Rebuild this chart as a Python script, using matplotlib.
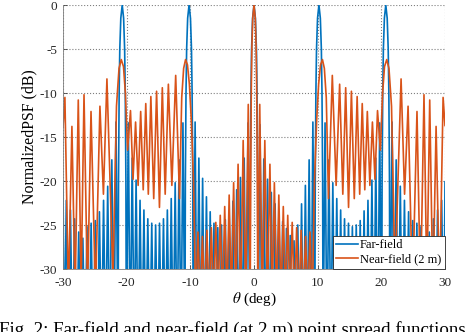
import matplotlib
matplotlib.use("Agg")
import matplotlib.pyplot as plt

# far-field PSF: lobe peaks and nulls (dB)
far_theta = [
    -30.0, -29.8, -29.48, -29.15, -28.83, -28.5, -28.18, -27.85, -27.53, -27.2,
    -26.88, -26.55, -26.23, -25.9, -25.58, -25.25, -24.93, -24.6, -24.28, -23.95,
    -23.63, -23.3, -22.98, -22.65, -22.33, -22.0, -21.68, -21.35,
    -21.28, -21.18, -21.08, -20.92, -20.7, -20.48, -20.32, -20.22, -20.12, -20.05,
    -19.74, -19.44, -19.13, -18.82, -18.52, -18.21, -17.9, -17.6, -17.29, -16.98,
    -16.68, -16.37, -16.06, -15.76, -15.45, -15.14, -14.84, -14.53, -14.22, -13.92,
    -13.61, -13.3, -13.0, -12.69, -12.38, -12.08, -11.77, -11.46, -11.16, -10.85,
    -10.78, -10.68, -10.58, -10.42, -10.2, -9.98, -9.82, -9.72, -9.62, -9.55,
    -9.25, -8.96, -8.66, -8.36, -8.07, -7.77, -7.47, -7.17, -6.88, -6.58,
    -6.29, -5.99, -5.69, -5.39, -5.1, -4.8, -4.5, -4.21, -3.91, -3.61,
    -3.32, -3.02, -2.72, -2.43, -2.13, -1.83, -1.54, -1.24, -0.94, -0.65,
    -0.58, -0.48, -0.38, -0.22, 0.0, 0.22, 0.38, 0.48, 0.58, 0.65,
    0.94, 1.24, 1.54, 1.83, 2.13, 2.43, 2.72, 3.02, 3.32, 3.61,
    3.91, 4.21, 4.5, 4.8, 5.1, 5.39, 5.69, 5.99, 6.29, 6.58,
    6.88, 7.17, 7.47, 7.77, 8.07, 8.36, 8.66, 8.96, 9.25, 9.55,
    9.62, 9.72, 9.82, 9.98, 10.2, 10.42, 10.58, 10.68, 10.78, 10.85,
    11.16, 11.46, 11.77, 12.08, 12.38, 12.69, 13.0, 13.3, 13.61, 13.92,
    14.22, 14.53, 14.84, 15.14, 15.45, 15.76, 16.06, 16.37, 16.68, 16.98,
    17.29, 17.6, 17.9, 18.21, 18.52, 18.82, 19.13, 19.44, 19.74, 20.05,
    20.12, 20.22, 20.32, 20.48, 20.7, 20.92, 21.08, 21.18, 21.28, 21.35,
    21.68, 22.0, 22.33, 22.65, 22.98, 23.3, 23.63, 23.95, 24.28, 24.6,
    24.93, 25.25, 25.58, 25.9, 26.23, 26.55, 26.88, 27.2, 27.53, 27.85,
    28.18, 28.5, 28.83, 29.15, 29.48, 29.8, 30.0,
]
far_db = [
    -20.3, -40, -22.2, -40, -23.3, -40, -24.3, -40, -25.8, -40,
    -26.5, -40, -25.2, -40, -24.8, -40, -24.5, -40, -23.5, -40,
    -22.2, -40, -20.6, -40, -17.6, -40, -13.3, -40,
    -20, -10, -5, -1.5, 0, -1.5, -5, -10, -20, -40,
    -13.4, -40, -17.4, -40, -19.9, -40, -22.2, -40, -23.3, -40,
    -24.3, -40, -24.8, -40, -25.0, -40, -24.8, -40, -24.3, -40,
    -23.3, -40, -22.0, -40, -20.2, -40, -17.6, -40, -13.4, -40,
    -20, -10, -5, -1.5, 0, -1.5, -5, -10, -20, -40,
    -13.3, -40, -17.4, -40, -19.7, -40, -21.8, -40, -23.5, -40,
    -24.8, -40, -25.3, -40, -25.0, -40, -24.4, -40, -23.4, -40,
    -22.3, -40, -21.0, -40, -19.6, -40, -17.4, -40, -13.4, -40,
    -20, -10, -5, -1.5, 0, -1.5, -5, -10, -20, -40,
    -13.6, -40, -17.5, -40, -19.8, -40, -21.3, -40, -22.6, -40,
    -23.6, -40, -24.6, -40, -25.4, -40, -26.2, -40, -26.8, -40,
    -25.0, -40, -22.6, -40, -20.5, -40, -17.6, -40, -13.3, -40,
    -20, -10, -5, -1.5, 0, -1.5, -5, -10, -20, -40,
    -13.4, -40, -17.6, -40, -20.2, -40, -22.0, -40, -23.3, -40,
    -24.3, -40, -24.8, -40, -25.2, -40, -25.0, -40, -24.5, -40,
    -23.4, -40, -22.2, -40, -19.9, -40, -17.4, -40, -13.4, -40,
    -20, -10, -5, -1.5, 0, -1.5, -5, -10, -20, -40,
    -13.3, -40, -17.6, -40, -20.6, -40, -22.2, -40, -23.5, -40,
    -24.5, -40, -24.8, -40, -25.2, -40, -26.5, -40, -25.8, -40,
    -24.3, -40, -23.3, -40, -22.2, -40, -20.1,
]

# near-field (2 m) PSF: lobe peaks and troughs (dB)
near_theta = [
    -30.0, -29.7, -29.15, -28.6, -28.1, -27.6, -27.15, -26.7, -26.15, -25.6,
    -24.9, -24.2, -23.65, -23.1, -22.15, -21.6, -21.2, -20.85, -20.5, -20.2,
    -19.85, -19.4, -19.0, -18.6, -18.2, -17.8, -17.4, -17.0, -16.6, -16.2,
    -15.75, -15.3, -14.85, -14.4, -13.95, -13.45, -12.9, -12.3, -11.7, -11.35,
    -11.05, -10.75, -10.45, -10.15, -9.85, -9.5, -9.15, -8.8, -8.45, -8.1,
    -7.75, -7.4, -7.05, -6.7, -6.35, -6.0, -5.65, -5.3, -4.95, -4.6,
    -4.25, -3.9, -3.55, -3.2, -2.85, -2.5, -2.1, -1.7, -1.3, -0.9,
    -0.6, -0.52, -0.43, -0.34, -0.2,
    0.0,
    0.2, 0.34, 0.43, 0.52, 0.6, 0.9, 1.3, 1.7, 2.1, 2.5,
    2.85, 3.2, 3.55, 3.9, 4.25, 4.6, 4.95, 5.3, 5.65, 6.0,
    6.35, 6.7, 7.05, 7.4, 7.75, 8.1, 8.45, 8.8, 9.15, 9.5,
    9.85, 10.15, 10.45, 10.75, 11.05, 11.35, 11.7, 12.3, 12.9, 13.45,
    13.95, 14.4, 14.85, 15.3, 15.75, 16.2, 16.6, 17.0, 17.4, 17.8,
    18.2, 18.6, 19.0, 19.4, 19.85, 20.2, 20.5, 20.85, 21.2, 21.6,
    22.15, 23.1, 23.65, 24.2, 24.9, 25.6, 26.15, 26.7, 27.15, 27.6,
    28.1, 28.6, 29.15, 29.7, 30.0,
]
near_db = [
    -13.9, -10.5, -33, -13.8, -33, -10.8, -32, -10.2, -33, -12.1,
    -33, -11.5, -21.5, -8.4, -31.0, -11.5, -7.2, -6.2, -7.0, -10.0,
    -16.5, -12.0, -19.8, -13.3, -20.5, -12.1, -21.0, -11.2, -21.5, -10.4,
    -22.0, -9.8, -23.0, -9.4, -21.5, -9.0, -20.5, -8.0, -22.0, -10.5,
    -7.2, -6.2, -6.8, -9.0, -13.0, -20.0, -34, -25.8, -34, -26.3,
    -34, -25.6, -34, -25.3, -34, -24.7, -34, -23.9, -34, -22.9,
    -34, -21.6, -34, -20.2, -34, -18.1, -34, -15.4, -34, -11.3,
    -34, -20.0, -10.0, -5.0, -1.5,
    0.0,
    -1.5, -5.0, -10.0, -20.0, -34, -11.3, -34, -15.4, -34, -18.1,
    -34, -20.2, -34, -21.6, -34, -22.9, -34, -23.9, -34, -24.7,
    -34, -25.3, -34, -25.6, -34, -26.3, -34, -25.8, -34, -20.0,
    -13.0, -9.0, -6.8, -6.2, -7.2, -10.5, -22.0, -8.0, -20.5, -9.0,
    -21.5, -9.4, -23.0, -9.8, -22.0, -10.4, -21.5, -11.2, -21.0, -12.1,
    -20.5, -13.3, -19.8, -12.0, -16.5, -10.0, -7.0, -6.2, -7.2, -11.5,
    -31.0, -8.4, -21.5, -11.5, -33, -12.1, -33, -10.2, -32, -10.8,
    -33, -13.8, -33, -10.5, -13.7,
]

x_ticks = [-30, -20, -10, 0, 10, 20, 30]
y_ticks = [-30, -25, -20, -15, -10, -5, 0]
series_labels = ["Far-field", "Near-field (2 m)"]
caption = "Fig. 2: Far-field and near-field (at 2 m) point spread functions"


def main():
    plt.rcParams["font.family"] = "serif"
    plt.rcParams["font.serif"] = ["Liberation Serif", "DejaVu Serif"]
    plt.rcParams["mathtext.fontset"] = "stix"
    plt.rcParams["axes.unicode_minus"] = False

    fig = plt.figure(figsize=(4.74, 3.32), dpi=100)
    ax = fig.add_axes([63 / 474, 1 - 269 / 332, 382 / 474, 264 / 332])

    ax.plot(far_theta, far_db, color="#0072BD", lw=1.2, label=series_labels[0])
    ax.plot(near_theta, near_db, color="#D95319", lw=1.2, label=series_labels[1])

    ax.set_xlim(-30, 30)
    ax.set_ylim(-30, 0)
    ax.set_xticks(x_ticks)
    ax.set_yticks(y_ticks)
    ax.tick_params(direction="in", length=3, width=0.5, labelsize=9.5,
                   colors="#262626", pad=4)
    ax.tick_params(axis="x", pad=6)
    ax.grid(True, linestyle=":", color="#7f7f7f", lw=0.8)
    ax.set_axisbelow(True)
    for side in ("top", "right"):
        ax.spines[side].set_visible(False)
    for side in ("left", "bottom"):
        ax.spines[side].set_color("#808080")
        ax.spines[side].set_linewidth(0.6)

    ax.set_xlabel(r"$\theta$ (deg)", fontsize=11, labelpad=1)
    ax.set_ylabel("NormalizedPSF (dB)", fontsize=11.4, labelpad=2)

    leg = ax.legend(loc="lower right", borderaxespad=0, fontsize=9,
                    handlelength=1.7, handletextpad=0.2, borderpad=0.3,
                    labelspacing=0.15, fancybox=False, framealpha=1)
    leg.get_frame().set_edgecolor("#262626")
    leg.get_frame().set_linewidth(0.6)

    # caption of the source figure, cut by the bottom edge as in the original
    fig.text(-0.003, 1 - 321 / 332, caption, fontsize=13.6, va="top", ha="left")

    fig.savefig("out.png", dpi=100)


if __name__ == "__main__":
    main()
